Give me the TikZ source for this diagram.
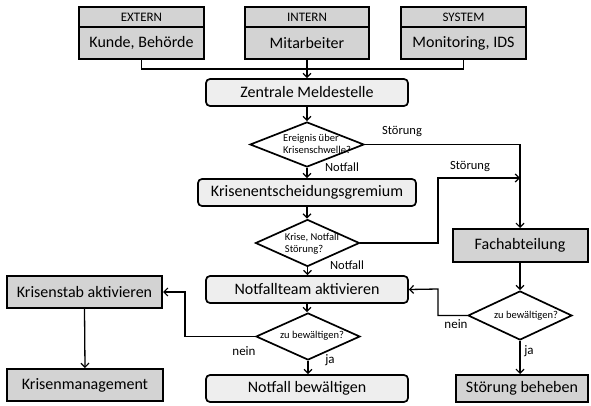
\documentclass[tikz,border=0pt]{standalone}
\usepackage{fontspec}
\setmainfont{Carlito}
\usetikzlibrary{shapes.geometric,arrows.meta}
\definecolor{boxgray}{HTML}{D3D3D3}
\definecolor{roundgray}{HTML}{EEEEEE}
\begin{document}
\begin{tikzpicture}[x=1pt,y=-1pt,
  graybox/.style={draw, line width=2pt, fill=boxgray, inner sep=0pt, font=\fontsize{16}{18}\selectfont},
  headbox/.style={graybox, font=\fontsize{13}{15}\selectfont},
  roundbox/.style={draw, line width=1.7pt, rounded corners=4pt, fill=roundgray, inner sep=0pt, font=\fontsize{16}{18}\selectfont},
  decision/.style={diamond, draw, line width=1.7pt, fill=white, inner sep=0pt},
  dtext/.style={inner sep=0pt, align=left, font=\fontsize{10.5}{12}\selectfont},
  link/.style={line width=1.3pt},
  arr/.style={link, -{Straight Barb[length=4pt,width=8pt,line width=1.2pt]}},
  lbl/.style={inner sep=0pt, font=\fontsize{12.5}{14}\selectfont}
]
\useasboundingbox (0,0) rectangle (591,406);
% top sources
\node[headbox, minimum width=125, minimum height=20] (exth) at (141.5,17) {EXTERN};
\node[graybox, minimum width=125, minimum height=32] (ext) at (141.5,43) {Kunde, Behörde};
\node[headbox, minimum width=124, minimum height=20] (inth) at (307,17) {INTERN};
\node[graybox, minimum width=124, minimum height=32] (int) at (307,43) {Mitarbeiter};
\node[headbox, minimum width=125, minimum height=20] (sysh) at (463.5,17) {SYSTEM};
\node[graybox, minimum width=125, minimum height=32] (sys) at (463.5,43) {Monitoring, IDS};
% main column
\node[roundbox, minimum width=202, minimum height=27] (zm) at (307,92.5) {Zentrale Meldestelle};
\node[decision, minimum width=114, minimum height=45] (d1) at (307,144.5) {};
\node[dtext] (t1) at (317,143.5) {Ereignis über\\Krisenschwelle?};
\node[roundbox, minimum width=218, minimum height=27] (keg) at (307,192.5) {Krisenentscheidungsgremium};
\node[decision, minimum width=104, minimum height=47] (d2) at (307.5,243) {};
\node[dtext] (t2) at (312,243.5) {Krise, Notfall\\Störung?};
\node[roundbox, minimum width=202, minimum height=27] (nt) at (307,289.5) {Notfallteam aktivieren};
\node[decision, minimum width=104, minimum height=47] (d3) at (308,336.5) {};
\node[dtext] (t3) at (312,335.5) {zu bewältigen?};
\node[roundbox, minimum width=202, minimum height=27] (nb) at (307,388.5) {Notfall bewältigen};
% left column
\node[graybox, minimum width=155, minimum height=32] (ks) at (84.5,292) {Krisenstab aktivieren};
\node[graybox, minimum width=156, minimum height=32] (km) at (85,385) {Krisenmanagement};
% right column
\node[graybox, minimum width=135, minimum height=33] (fa) at (520,245.5) {Fachabteilung};
\node[decision, minimum width=104, minimum height=49] (d4) at (520,315.5) {};
\node[dtext] (t4) at (526,316) {zu bewältigen?};
\node[graybox, minimum width=132, minimum height=27] (sb) at (522,388.5) {Störung beheben};
% helper coordinates
\coordinate (bus) at (307,69);
\coordinate (k2) at (438,178);
\coordinate (m2) at (fa.north |- k2);
\coordinate (k3) at (185,292);
\coordinate (k4) at (438,289);
% connectors
\draw[link] (ext.south) |- (bus) -| (sys.south);
\draw[arr] (int.south) -- (zm.north);
\draw[arr] (zm.south) -- (d1.north);
\draw[arr] (d1.east) -| (fa.north);
\draw[arr] (d1.south) -- (d1.south |- keg.north);
\draw[arr] (keg.south) -- (keg.south |- d2.north);
\draw[arr] (d2.east) -| (k2) -- (m2);
\draw[arr] (d2.south) -- (d2.south |- nt.north);
\draw[arr] (nt.south) -- (nt.south |- d3.north);
\draw[arr] (d3.south) -- (d3.south |- nb.north);
\draw[arr] (d3.west) -| (k3) -- (ks.east);
\draw[arr] (ks.south) -- (km.north);
\draw[arr] (fa.south) -- (d4.north);
\draw[arr] (d4.west) -| (k4) -- (nt.east);
\draw[arr] (d4.south) -- (d4.south |- sb.north);
% labels
\node[lbl] (l1) at (402,131) {Störung};
\node[lbl] (l2) at (342,167) {Notfall};
\node[lbl] (l3) at (470,166) {Störung};
\node[lbl] (l4) at (347,265) {Notfall};
\node[lbl, font=\fontsize{13}{15}\selectfont] (l5) at (244,351) {nein};
\node[lbl, font=\fontsize{13}{15}\selectfont] (l6) at (330,360) {ja};
\node[lbl, font=\fontsize{13}{15}\selectfont] (l7) at (456,324) {nein};
\node[lbl, font=\fontsize{13}{15}\selectfont] (l8) at (529,351) {ja};
\end{tikzpicture}
\end{document}
